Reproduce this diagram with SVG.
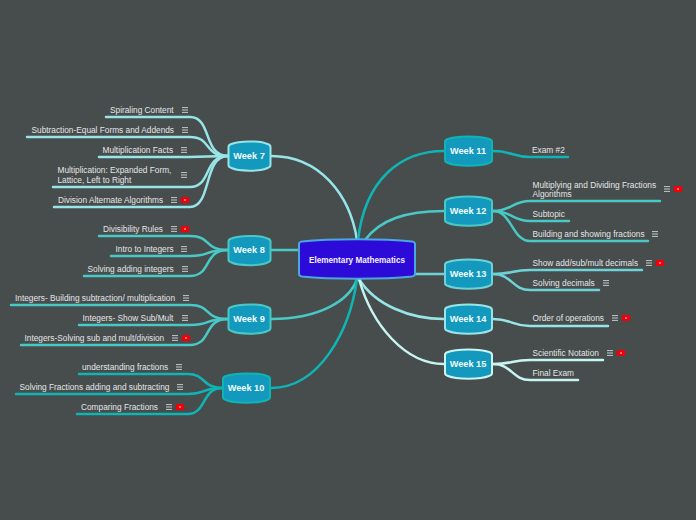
<svg xmlns="http://www.w3.org/2000/svg" width="696" height="520" viewBox="0 0 696 520">
<style>
text{font-family:"Liberation Sans",Arial,sans-serif}
.t{font-size:8.3px;fill:#e4e6e6}
.w{font-size:9.2px;font-weight:bold;fill:#f2fbfd;text-anchor:middle}
.c{font-size:8.2px;font-weight:bold;fill:#f4f0ff;text-anchor:middle}
.n{fill:#1399bd;stroke-width:2}
path.l{fill:none;stroke-width:2.5;stroke-linecap:round}
.a{stroke:#98e5e8}.b{stroke:#48c9c6}.d{stroke:#0fb5b5}.e{stroke:#6dd3d8}.f{stroke:#c8f5f2}
</style>
<defs>
<g id="m"><path d="M-3-2.4H3M-3 0H3M-3 2.400H3" stroke="#c4c8c8" stroke-width="1" fill="none"/></g>
<g id="y"><rect x="-4.300" y="-3" width="8.600" height="6" rx="1.600" fill="#f0000a"/><circle r="0.800" fill="#fff"/></g>
<path id="s" d="M0 6C0 4 1 3.500 3 3C10-.5 32-.5 39 3C41 3.500 42 4 42 6V24C42 26 41 26.500 39 27C32 30.500 10 30.500 3 27C1 26.500 0 26 0 24Z"/>
<path id="r" d="M0 6C0 4 1 3.500 3 3C11-.5 36-.5 44 3C46 3.500 47 4 47 6V24C47 26 46 26.500 44 27C36 30.500 11 30.500 3 27C1 26.500 0 26 0 24Z"/>
</defs>
<rect width="696" height="520" fill="#474c4d"/>
<g id="connectors">
<path class="l a" d="M271 156C320 156 350 195 357 240"/>
<path class="l b" d="M228 250H298"/>
<path class="l b" d="M271 319C320 319 350 300 357 279"/>
<path class="l d" d="M271 388C320 388 350 330 357 279"/>
<path class="l d" d="M444 151C400 151 365 180 358 240"/>
<path class="l b" d="M444 211C405 211 380 220 365 240"/>
<path class="l e" d="M416 274H444"/>
<path class="l a" d="M359 279C375 305 410 319 444 319"/>
<path class="l f" d="M359 279C372 325 405 364 444 364"/>
<g>
<path class="l a" d="M106 117H190C212 117 203 156 228 156"/>
<path class="l a" d="M27 137H190C212 137 203 156 228 156"/>
<path class="l a" d="M99 157H190C205 157 210 156 228 156"/>
<path class="l a" d="M53 187H190C212 187 203 156 228 156"/>
<path class="l a" d="M54 207H190C212 207 203 156 228 156"/>
</g>
<g>
<path class="l b" d="M99 236H190C212 236 203 250 228 250"/>
<path class="l b" d="M111 256H190C212 256 203 250 228 250"/>
<path class="l b" d="M84 276H190C212 276 203 250 228 250"/>
</g>
<g>
<path class="l b" d="M11 305H190C212 305 203 319 228 319"/>
<path class="l b" d="M79 325H190C212 325 203 319 228 319"/>
<path class="l b" d="M21 345H190C212 345 203 319 228 319"/>
</g>
<g>
<path class="l d" d="M79 374H188C206 374 202 388 222 388"/>
<path class="l d" d="M16 394H188C206 394 202 388 222 388"/>
<path class="l d" d="M77 414H188C206 414 202 388 222 388"/>
</g>
<path class="l d" d="M493 151C512 151 512 157 530 157H568"/>
<path class="l b" d="M493 211C512 211 512 201 530 201H660"/>
<path class="l b" d="M493 211C512 211 512 221 530 221H569"/>
<path class="l b" d="M493 211C512 211 512 241 530 241H648"/>
<path class="l e" d="M493 274C512 274 512 270 530 270H642"/>
<path class="l e" d="M493 274C512 274 512 290 530 290H599"/>
<path class="l a" d="M493 319C512 319 512 326 530 326H608"/>
<path class="l f" d="M493 364C512 364 512 360 530 360H603"/>
<path class="l f" d="M493 364C512 364 512 380 530 380H578"/>
</g>
<g id="center"><path d="M299 244C299 242 300 242 302 241.500C330 238.500 384 238.500 412 241.500C414 242 415 242 415 244V274C415 276 414 276 412 276.500C384 279.500 330 279.500 302 276.500C300 276 299 276 299 274Z" fill="#2c0bd8" stroke="#4aa8e0" stroke-width="2"/><text class="c" x="357" y="262.500">Elementary Mathematics</text></g>
<g id="week7"><use href="#s" class="n a" x="228.500" y="141"/><text class="w" x="249" y="159">Week 7</text></g>
<g id="week8"><use href="#s" class="n b" x="228.500" y="235.500"/><text class="w" x="249" y="253">Week 8</text></g>
<g id="week9"><use href="#s" class="n b" x="228.500" y="304"/><text class="w" x="249" y="322">Week 9</text></g>
<g id="week10"><use href="#r" class="n d" x="223" y="373"/><text class="w" x="246" y="391">Week 10</text></g>
<g id="week11"><use href="#r" class="n d" x="445" y="136"/><text class="w" x="468" y="154">Week 11</text></g>
<g id="week12"><use href="#r" class="n b" x="445" y="196"/><text class="w" x="468" y="214">Week 12</text></g>
<g id="week13"><use href="#r" class="n e" x="445" y="259"/><text class="w" x="468" y="277">Week 13</text></g>
<g id="week14"><use href="#r" class="n a" x="445" y="304"/><text class="w" x="468" y="322">Week 14</text></g>
<g id="week15"><use href="#r" class="n f" x="445" y="349"/><text class="w" x="468" y="367">Week 15</text></g>
<g id="n1"><text class="t" x="110" y="113">Spiraling Content</text><use href="#m" x="185" y="110"/></g>
<g id="n2"><text class="t" x="31.500" y="133">Subtraction-Equal Forms and Addends</text><use href="#m" x="185" y="130"/></g>
<g id="n3"><text class="t" x="102.500" y="153">Multiplication Facts</text><use href="#m" x="184" y="150"/></g>
<g id="n4"><text class="t" x="57.500" y="173">Multiplication: Expanded Form,</text><text class="t" x="57.500" y="183">Lattice, Left to Right</text><use href="#m" x="184" y="175"/></g>
<g id="n5"><text class="t" x="58" y="203">Division Alternate Algorithms</text><use href="#m" x="174" y="200"/><use href="#y" x="185" y="200"/></g>
<g id="n6"><text class="t" x="103" y="232">Divisibility Rules</text><use href="#m" x="174" y="229"/><use href="#y" x="185" y="229"/></g>
<g id="n7"><text class="t" x="115.500" y="252">Intro to Integers</text><use href="#m" x="184" y="249"/></g>
<g id="n8"><text class="t" x="87.500" y="272">Solving adding integers</text><use href="#m" x="185" y="269"/></g>
<g id="n9"><text class="t" x="15" y="301">Integers- Building subtraction/ multiplication</text><use href="#m" x="186" y="298"/></g>
<g id="n10"><text class="t" x="82.500" y="321">Integers- Show Sub/Mult</text><use href="#m" x="185" y="318"/></g>
<g id="n11"><text class="t" x="24.500" y="341">Integers-Solving sub and mult/division</text><use href="#m" x="175" y="338"/><use href="#y" x="186" y="338"/></g>
<g id="n12"><text class="t" x="82" y="370">understanding fractions</text><use href="#m" x="179" y="367"/></g>
<g id="n13"><text class="t" x="19.500" y="390">Solving Fractions adding and subtracting</text><use href="#m" x="180" y="387"/></g>
<g id="n14"><text class="t" x="81" y="410">Comparing Fractions</text><use href="#m" x="169" y="407"/><use href="#y" x="180" y="407"/></g>
<g id="n15"><text class="t" x="532" y="153">Exam #2</text></g>
<g id="n16"><text class="t" x="532.500" y="188">Multiplying and Dividing Fractions</text><text class="t" x="532.500" y="197">Algorithms</text><use href="#m" x="667" y="189"/><use href="#y" x="678" y="189"/></g>
<g id="n17"><text class="t" x="532.500" y="217">Subtopic</text></g>
<g id="n18"><text class="t" x="532.500" y="237">Building and showing fractions</text><use href="#m" x="655" y="234"/></g>
<g id="n19"><text class="t" x="532.500" y="266">Show add/sub/mult decimals</text><use href="#m" x="649" y="263"/><use href="#y" x="660" y="263"/></g>
<g id="n20"><text class="t" x="532.500" y="286">Solving decimals</text><use href="#m" x="606" y="283"/></g>
<g id="n21"><text class="t" x="532.500" y="321">Order of operations</text><use href="#m" x="615" y="318"/><use href="#y" x="626" y="318"/></g>
<g id="n22"><text class="t" x="532.500" y="356">Scientific Notation</text><use href="#m" x="610" y="353"/><use href="#y" x="621" y="353"/></g>
<g id="n23"><text class="t" x="532.500" y="376">Final Exam</text></g>
</svg>
